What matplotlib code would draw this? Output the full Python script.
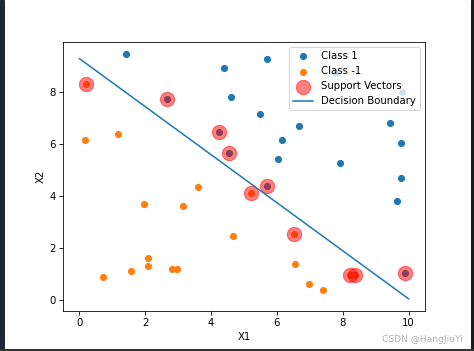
import numpy as np
import matplotlib
matplotlib.use("Agg")
import matplotlib.pyplot as plt
from matplotlib.patches import Rectangle

# ---------------------------------------------------------------------------
# Data
# ---------------------------------------------------------------------------
class1_x = [1.42, 4.39, 5.69, 4.62, 5.49, 6.67, 6.14, 6.02, 7.93, 9.44,
            9.78, 9.78, 9.64, 9.80, 7.77,
            2.65, 4.23, 4.55, 5.71, 9.90]
class1_y = [9.46, 8.92, 9.27, 7.80, 7.16, 6.71, 6.17, 5.44, 5.28, 6.81,
            6.03, 4.69, 3.82, 8.00, 8.73,
            7.74, 6.45, 5.66, 4.38, 1.02]

classm1_x = [0.18, 1.18, 1.95, 3.15, 3.59, 4.67, 2.09, 2.09, 0.72, 1.58,
             2.81, 2.96, 6.55, 6.97, 7.39,
             0.20, 5.21, 6.52, 8.22, 8.38]
classm1_y = [6.17, 6.40, 3.68, 3.63, 4.36, 2.45, 1.61, 1.30, 0.88, 1.10,
             1.20, 1.20, 1.38, 0.60, 0.37,
             8.33, 4.13, 2.53, 0.97, 0.97]

# support vectors (the points sitting on / near the margin)
sv_x = [2.65, 4.23, 4.55, 5.71, 9.90, 0.20, 5.21, 6.52, 8.22, 8.38]
sv_y = [7.74, 6.45, 5.66, 4.38, 1.02, 8.33, 4.13, 2.53, 0.97, 0.97]

# decision boundary end points
boundary_x = [0.0, 10.0]
boundary_y = [9.29, 0.04]

# ---------------------------------------------------------------------------
# Plot  (dpi 73 so matplotlib defaults shrink like the screenshot)
# ---------------------------------------------------------------------------
DPI = 73
fig = plt.figure(figsize=(474 / DPI, 351 / DPI), dpi=DPI)
ax = fig.add_axes([63 / 474, 40 / 351, 362 / 474, 269 / 351])

ax.scatter(class1_x, class1_y, label="Class 1")
ax.scatter(classm1_x, classm1_y, label="Class -1")
ax.scatter(sv_x, sv_y, s=200, color="red", alpha=0.5, label="Support Vectors")
ax.plot(boundary_x, boundary_y, label="Decision Boundary")

ax.set_xlabel("X1")
ax.set_ylabel("X2")
ax.legend(loc="upper right")

# screenshot frame and watermark
fig.patches.append(Rectangle((0, 0), 4 / 474, 1, transform=fig.transFigure,
                             color="#1f2635", zorder=10))
fig.patches.append(Rectangle((471 / 474, 0), 3 / 474, 1, transform=fig.transFigure,
                             color="#1a1a1a", zorder=10))
fig.patches.append(Rectangle((0, 0), 1, 2 / 351, transform=fig.transFigure,
                             color="#333333", zorder=10))
fig.text(463 / 474, 1 - 339 / 351, "CSDN @HangJiuYi", ha="right", va="center",
         fontsize=9, color="#b0b0b0")

fig.savefig("out.png", dpi=DPI)
